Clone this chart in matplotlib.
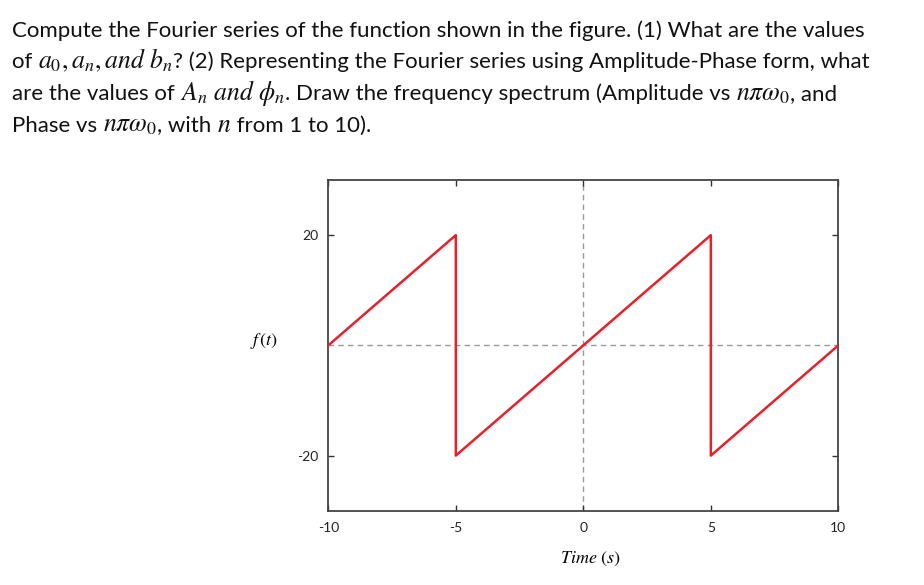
import matplotlib
matplotlib.use("Agg")
import matplotlib.pyplot as plt

plt.rcParams['font.family'] = ['Lato', 'DejaVu Sans']
plt.rcParams['mathtext.fontset'] = 'stix'
plt.rcParams['axes.unicode_minus'] = False

# sawtooth: rises 0->20 on [-10,-5], jumps to -20, rises to 20 at 5, jumps, ends at 0
t = [-10, -5, -5, 5, 5, 10]
f = [0, 20, -20, 20, -20, 0]
xticks = [-10, -5, 0, 5, 10]
yticks = [-20, 20]

# each line of the question is a list of pieces; pieces in $...$ are math
question = [
    ["Compute the Fourier series of the function shown in the figure. (1) What are the values"],
    ["of ", r"$a_0, a_n, and\ b_n$", "? (2) Representing the Fourier series using Amplitude-Phase form, what"],
    ["are the values of ", r"$A_n\ and\ \phi_n$", ". Draw the frequency spectrum (Amplitude vs ",
     r"$n\pi\omega_0$", ", and"],
    ["Phase vs ", r"$n\pi\omega_0$", ", with ", r"$n$", " from 1 to 10)."],
]

fig = plt.figure(figsize=(9.24, 5.85), dpi=100)
renderer = fig.canvas.get_renderer()

for i, pieces in enumerate(question):
    x = 12
    y = 1 - (37 + 31.5 * i) / 585
    for p in pieces:
        size = 18.5 if p.startswith('$') else 16
        txt = fig.text(x / 924, y, p, fontsize=size, color='#111111',
                       ha='left', va='baseline')
        bb = txt.get_window_extent(renderer)
        x = bb.x1

ax = fig.add_axes([0.3553, 0.127, 0.552, 0.5653])
ax.plot(t, f, color='#e8202a', lw=1.8, zorder=3)
ax.axhline(0, color='#999999', lw=1, ls=(0, (4, 3)), zorder=1)
ax.axvline(0, color='#999999', lw=1, ls=(0, (4, 3)), zorder=1)

ax.set_xlim(-10, 10)
ax.set_ylim(-30, 30)
ax.set_xticks(xticks)
ax.set_yticks(yticks)
ax.tick_params(direction='in', length=4, width=1, color='#333333',
               top=True, right=True, labelsize=10, labelcolor='#222222')
ax.tick_params(axis='x', pad=8)
ax.tick_params(axis='y', pad=7)
for s in ax.spines.values():
    s.set_color('#444444')
    s.set_linewidth(1.3)

fig.text(264 / 924, 1 - 341 / 585, r"$f\,(t)$", fontsize=13, ha='center', va='center')
fig.text(590 / 924, 1 - 559 / 585, r"$Time\ (s)$", fontsize=13, ha='center', va='center')

fig.savefig("out.png", dpi=100)
